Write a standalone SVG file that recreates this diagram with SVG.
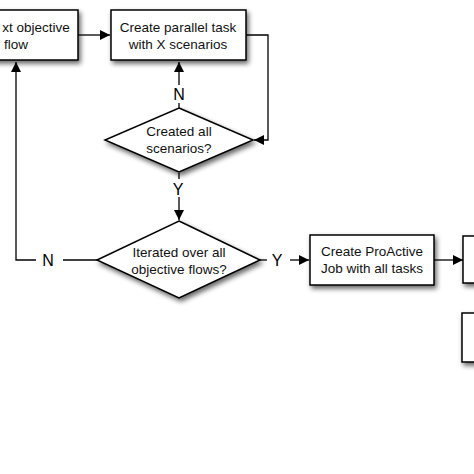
<svg xmlns="http://www.w3.org/2000/svg" width="474" height="474" viewBox="0 0 474 474">
  <defs>
    <filter id="shadow" x="-20%" y="-20%" width="150%" height="160%">
      <feGaussianBlur in="SourceAlpha" stdDeviation="2.5"/>
      <feOffset dx="1.5" dy="3" result="blur"/>
      <feComponentTransfer><feFuncA type="linear" slope="0.6"/></feComponentTransfer>
      <feMerge><feMergeNode/><feMergeNode in="SourceGraphic"/></feMerge>
    </filter>
    <marker id="arrow" viewBox="0 0 10 10" refX="10" refY="5" markerWidth="10" markerHeight="10" markerUnits="userSpaceOnUse" orient="auto">
      <path d="M0,0 L10,5 L0,10 z" fill="#000"/>
    </marker>
  </defs>
  <style>
    .shape { fill: #fff; stroke: #000; stroke-width: 1.5; filter: url(#shadow); }
    .edge { fill: none; stroke: #000; stroke-width: 1.3; }
    .arr { marker-end: url(#arrow); }
    text { font-family: "Liberation Sans", Arial, sans-serif; font-size: 13.5px; fill: #111; text-anchor: middle; }
    .lbl { font-size: 16px; fill: #000; }
  </style>
  <rect width="474" height="474" fill="#fff"/>

  <g id="connectors">
    <path class="edge arr" d="M78,35 H110"/>
    <path class="edge arr" d="M246,35 H268 V140 H254"/>
    <path class="edge arr" d="M179,108 V62"/>
    <path class="edge arr" d="M179,173 V220"/>
    <path class="edge" d="M97,260 H63"/>
    <path class="edge arr" d="M36,260 H16 V62"/>
    <path class="edge" d="M260,260 H267"/>
    <path class="edge arr" d="M290,260 H309"/>
    <path class="edge arr" d="M434,260 H463"/>
    <rect x="169" y="85" width="20" height="18" fill="#fff"/>
    <text class="lbl" x="179" y="100">N</text>
    <rect x="168" y="179" width="20" height="18" fill="#fff"/>
    <text class="lbl" x="178" y="195">Y</text>
    <text class="lbl" x="48" y="266">N</text>
    <text class="lbl" x="277" y="266">Y</text>
  </g>

  <g id="next-objective-flow">
    <rect class="shape" x="-20" y="10" width="98" height="50"/>
    <text x="36" y="32">xt objective</text>
    <text x="4" y="49" style="text-anchor:start">flow</text>
  </g>

  <g id="create-parallel-task">
    <rect class="shape" x="111" y="10" width="135" height="50"/>
    <text x="178" y="32">Create parallel task</text>
    <text x="178" y="49">with X scenarios</text>
  </g>

  <g id="created-all-scenarios">
    <polygon class="shape" points="179,108 253,140 179,172 105,140"/>
    <text x="179" y="136">Created all</text>
    <text x="179" y="153">scenarios?</text>
  </g>

  <g id="iterated-over-all">
    <polygon class="shape" points="179,221 260,260 179,298 97,260"/>
    <text x="179" y="257">Iterated over all</text>
    <text x="179" y="274">objective flows?</text>
  </g>

  <g id="create-proactive-job">
    <rect class="shape" x="310" y="235" width="124" height="50"/>
    <text x="372" y="256">Create ProActive</text>
    <text x="372" y="273">Job with all tasks</text>
  </g>

  <g id="next-step">
    <rect class="shape" x="463" y="236" width="30" height="47"/>
  </g>

  <g id="later-step">
    <rect class="shape" x="462" y="313" width="30" height="49"/>
  </g>
</svg>
